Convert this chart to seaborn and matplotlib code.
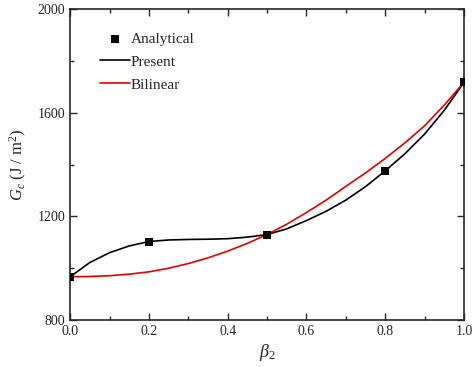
import numpy as np
import pandas as pd
import matplotlib
matplotlib.use("Agg")
import matplotlib.pyplot as plt
from matplotlib.ticker import MultipleLocator
import seaborn as sns

# data
beta = [0.0, 0.05, 0.1, 0.15, 0.2, 0.25, 0.3, 0.35, 0.4, 0.45, 0.5,
        0.55, 0.6, 0.65, 0.7, 0.75, 0.8, 0.85, 0.9, 0.95, 1.0]
present = [967, 1022, 1060, 1086, 1103, 1109, 1111, 1112, 1114, 1120, 1130,
           1152, 1184, 1220, 1263, 1315, 1376, 1442, 1518, 1610, 1718]
bilinear = [967, 968, 971, 977, 986, 1000, 1018, 1040, 1066, 1096, 1130,
            1170, 1215, 1263, 1316, 1368, 1424, 1484, 1550, 1630, 1718]
beta_ana = [0.0, 0.2, 0.5, 0.8, 1.0]
analytical = [967, 1103, 1130, 1376, 1718]

sns.set_style("ticks")
plt.rcParams['font.family'] = ['Liberation Serif', 'DejaVu Serif']
plt.rcParams['mathtext.fontset'] = 'custom'
plt.rcParams['mathtext.rm'] = 'Liberation Serif'
plt.rcParams['mathtext.it'] = 'Liberation Serif:italic'

df = pd.DataFrame({"beta": beta, "Present": present, "Bilinear": bilinear})
df_ana = pd.DataFrame({"beta": beta_ana, "Analytical": analytical})

fig = plt.figure(figsize=(4.74, 3.67), dpi=100)
ax = fig.add_axes([0.148, 0.128, 0.831, 0.847])

sns.scatterplot(data=df_ana, x="beta", y="Analytical", ax=ax, marker="s",
                s=36, color="black", edgecolor="black", linewidth=0,
                label="Analytical", zorder=3)
sns.lineplot(data=df, x="beta", y="Present", ax=ax, color="black",
             linewidth=1.2, label="Present")
sns.lineplot(data=df, x="beta", y="Bilinear", ax=ax, color="#e00000",
             linewidth=1.2, label="Bilinear")

ax.set_xlim(0, 1.0)
ax.set_ylim(800, 2000)
ax.xaxis.set_major_locator(MultipleLocator(0.2))
ax.xaxis.set_minor_locator(MultipleLocator(0.1))
ax.yaxis.set_major_locator(MultipleLocator(400))
ax.yaxis.set_minor_locator(MultipleLocator(200))
ax.tick_params(which="both", direction="in", top=True, right=True, labelsize=10)
ax.tick_params(which="major", length=5, width=1)
ax.tick_params(which="minor", length=3, width=1)
for s in ax.spines.values():
    s.set_linewidth(1.2)

ax.set_xlabel(r"$\beta_2$", fontsize=13, labelpad=3)
ax.set_ylabel(r"$G_c$ (J / m$^2$)", fontsize=12, labelpad=6)

ax.legend(loc="upper left", bbox_to_anchor=(0.04, 0.97), frameon=False,
          fontsize=11, handlelength=2.0, handletextpad=0.05, labelspacing=0.6)

fig.savefig("out.png", dpi=100)
